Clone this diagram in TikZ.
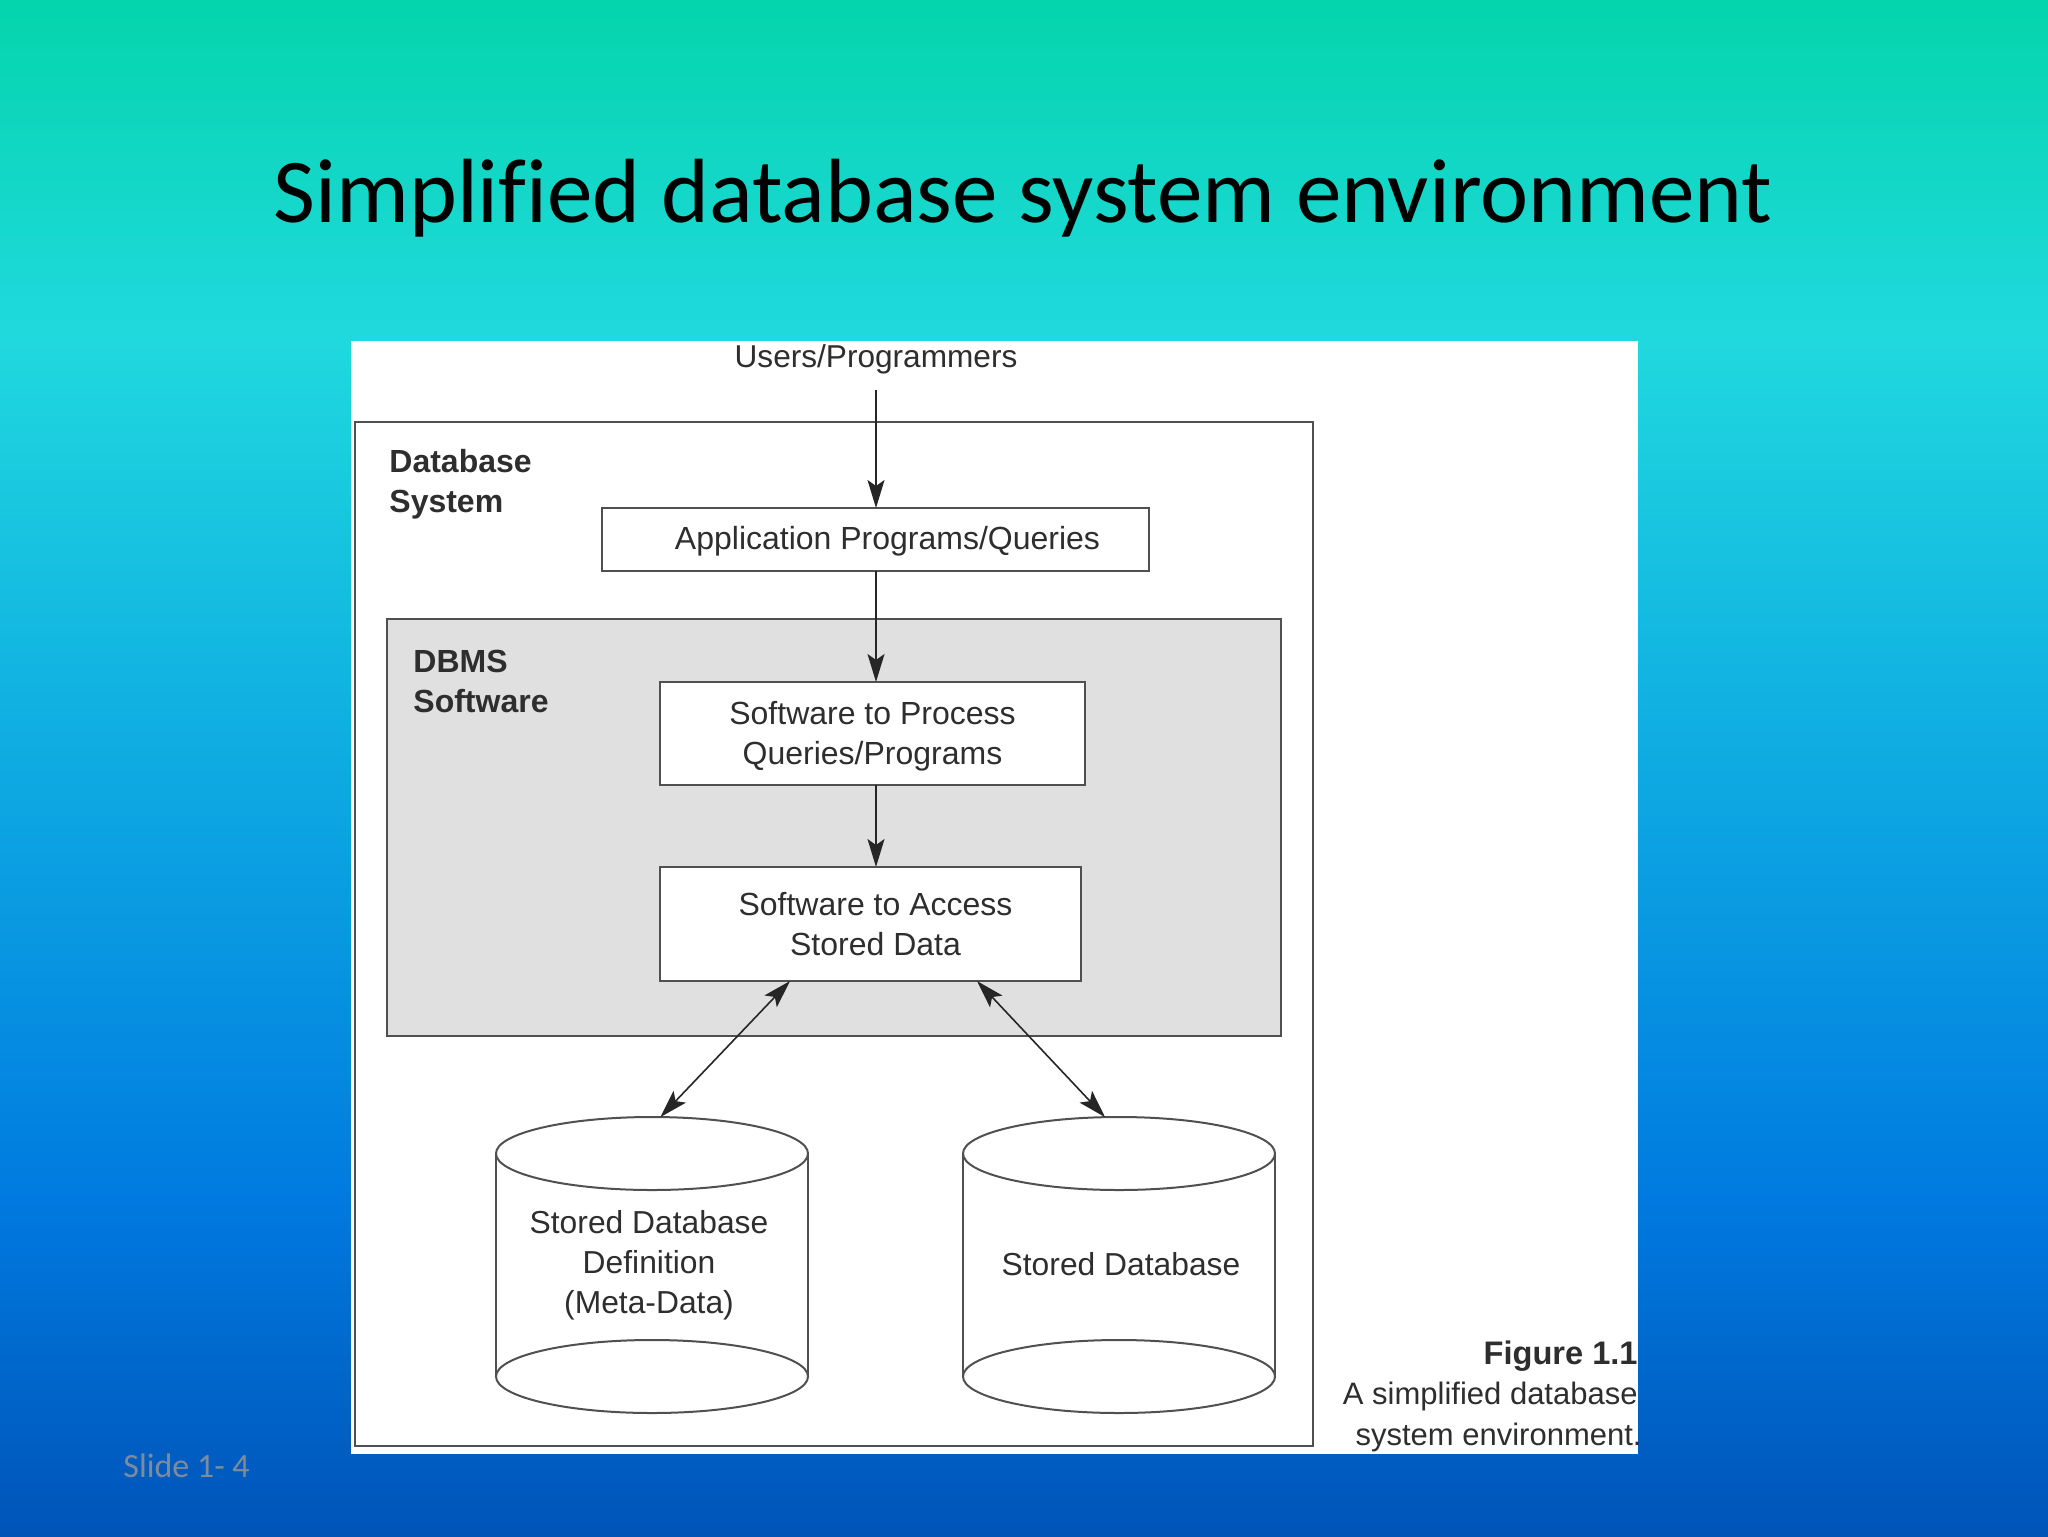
\documentclass[tikz,border=0pt]{standalone}
\usepackage{fontspec}
\setmainfont{Liberation Sans}
\newfontfamily\slidefont[Ligatures=NoCommon]{Carlito}
\usetikzlibrary{arrows.meta,shapes.geometric}
\definecolor{inkgray}{HTML}{2E2E2E}
\definecolor{linegray}{HTML}{505050}
\definecolor{dbmsgray}{HTML}{E0E0E0}
\definecolor{slidegray}{HTML}{7C8C9C}
\definecolor{bgA}{RGB}{0,84,184}
\definecolor{bgB}{RGB}{0,122,224}
\definecolor{bgC}{RGB}{14,170,226}
\definecolor{bgD}{RGB}{32,217,222}
\definecolor{bgE}{RGB}{4,213,172}
\pgfdeclareverticalshading{slidebg}{100bp}{%
  color(0bp)=(bgA);
  color(25bp)=(bgA);
  color(36bp)=(bgB);
  color(50bp)=(bgC);
  color(64bp)=(bgD);
  color(75bp)=(bgE);
  color(100bp)=(bgE)}
\tikzset{
  boxline/.style={draw=linegray,line width=1.3pt,inner sep=0pt,outer sep=0pt,align=center,text=inkgray,font=\fontsize{16}{20}\selectfont},
  whitebox/.style={boxline,fill=white},
  disk/.style={ellipse,draw=linegray,line width=1pt,fill=white,inner sep=0pt,outer sep=0pt,minimum width=156pt,minimum height=36.5pt},
  plainlabel/.style={inner sep=0pt,align=center,text=inkgray,font=\fontsize{15.9}{20}\selectfont},
  boldlabel/.style={inner sep=0pt,align=left,anchor=west,text=inkgray,font=\fontsize{16}{20}\selectfont\bfseries},
  capline/.style={inner sep=0pt,anchor=east,text=inkgray,font=\fontsize{15.5}{20}\selectfont},
  flow/.style={draw=black!85,line width=0.8pt,-{Stealth[length=14pt,width=8.5pt,inset=3pt]}},
  twoway/.style={draw=black!85,line width=0.8pt,{Stealth[length=14pt,width=8.5pt,inset=3pt]}-{Stealth[length=14pt,width=8.5pt,inset=3pt]}},
  sideline/.style={draw=linegray,line width=0.7pt}
}
\begin{document}
\begin{tikzpicture}[x=0.5pt,y=-0.5pt]
\useasboundingbox (0,0) rectangle (2048,1536);
\fill[shading=slidebg] (0,0) rectangle (2048,1536);
\node[inner sep=0pt,anchor=center,font=\slidefont\fontsize{45.6}{50}\selectfont,text=black] (title) at (1023,198) {Simplified database system environment};
\node[inner sep=0pt,anchor=west,font=\slidefont\fontsize{17}{20}\selectfont,text=slidegray] (slideno) at (123,1466) {Slide 1- 4};
\fill[white] (351,341) rectangle (1638,1454);
\coordinate (axis) at (876,0);
\node[boxline,fill=white,minimum width=479pt,minimum height=512pt] (outer) at (834,934) {};
\node[boldlabel] (dbsys) at (389,484) {Database\\System};
\node[plainlabel,font=\fontsize{15.8}{20}\selectfont] (users) at (876,359) {Users/Programmers};
\node[whitebox,minimum width=273.5pt,minimum height=31.5pt] (app) at (875.5,539.5) {\hspace*{12pt}\rule{0pt}{13.2pt}Application Programs/Queries};
\node[boxline,fill=dbmsgray,minimum width=447pt,minimum height=208.5pt] (dbms) at (834,827.5) {};
\node[boldlabel] (dbmslabel) at (413,681) {DBMS\\Software};
\node[whitebox,minimum width=212.5pt,minimum height=51.5pt] (process) at (872.5,733.5) {\rule{0pt}{14.2pt}Software to Process\\Queries/Programs};
\node[whitebox,minimum width=210.5pt,minimum height=57pt] (access) at (870.5,924) {\hspace*{5pt}Software to Access\\\hspace*{5pt}Stored Data};
\node[disk] (metatop) at (652,1153.5) {};
\node[disk] (metabot) at (652,1376.5) {};
\node[disk] (datatop) at (1119,1153.5) {};
\node[disk] (databot) at (1119,1376.5) {};
\draw[sideline] (metatop.west) -- (metabot.west);
\draw[sideline] (metatop.east) -- (metabot.east);
\draw[sideline] (datatop.west) -- (databot.west);
\draw[sideline] (datatop.east) -- (databot.east);
\node[plainlabel] (metalabel) at (649,1265.5) {Stored Database\\Definition\\(Meta-Data)};
\node[plainlabel] (datalabel) at (1121,1264) {Stored Database};
\begin{scope}
\clip (1300,1330) rectangle (1638,1454);
\node[capline,font=\fontsize{16.3}{20}\selectfont\bfseries] (figno) at (1638,1356) {Figure 1.1};
\node[capline] (capa) at (1638,1396) {A simplified database};
\node[capline] (capb) at (1642,1437) {system environment.};
\end{scope}
\coordinate (accessl) at (790,981);
\coordinate (accessr) at (977,981);
\draw[flow,shorten <=8pt] (users.south -| axis) -- (app.north -| axis);
\draw[flow] (app.south -| axis) -- (process.north -| axis);
\draw[flow] (process.south -| axis) -- (access.north -| axis);
\draw[twoway] (accessl) -- (metatop.77);
\draw[twoway] (accessr) -- (datatop.111);
\end{tikzpicture}
\end{document}
